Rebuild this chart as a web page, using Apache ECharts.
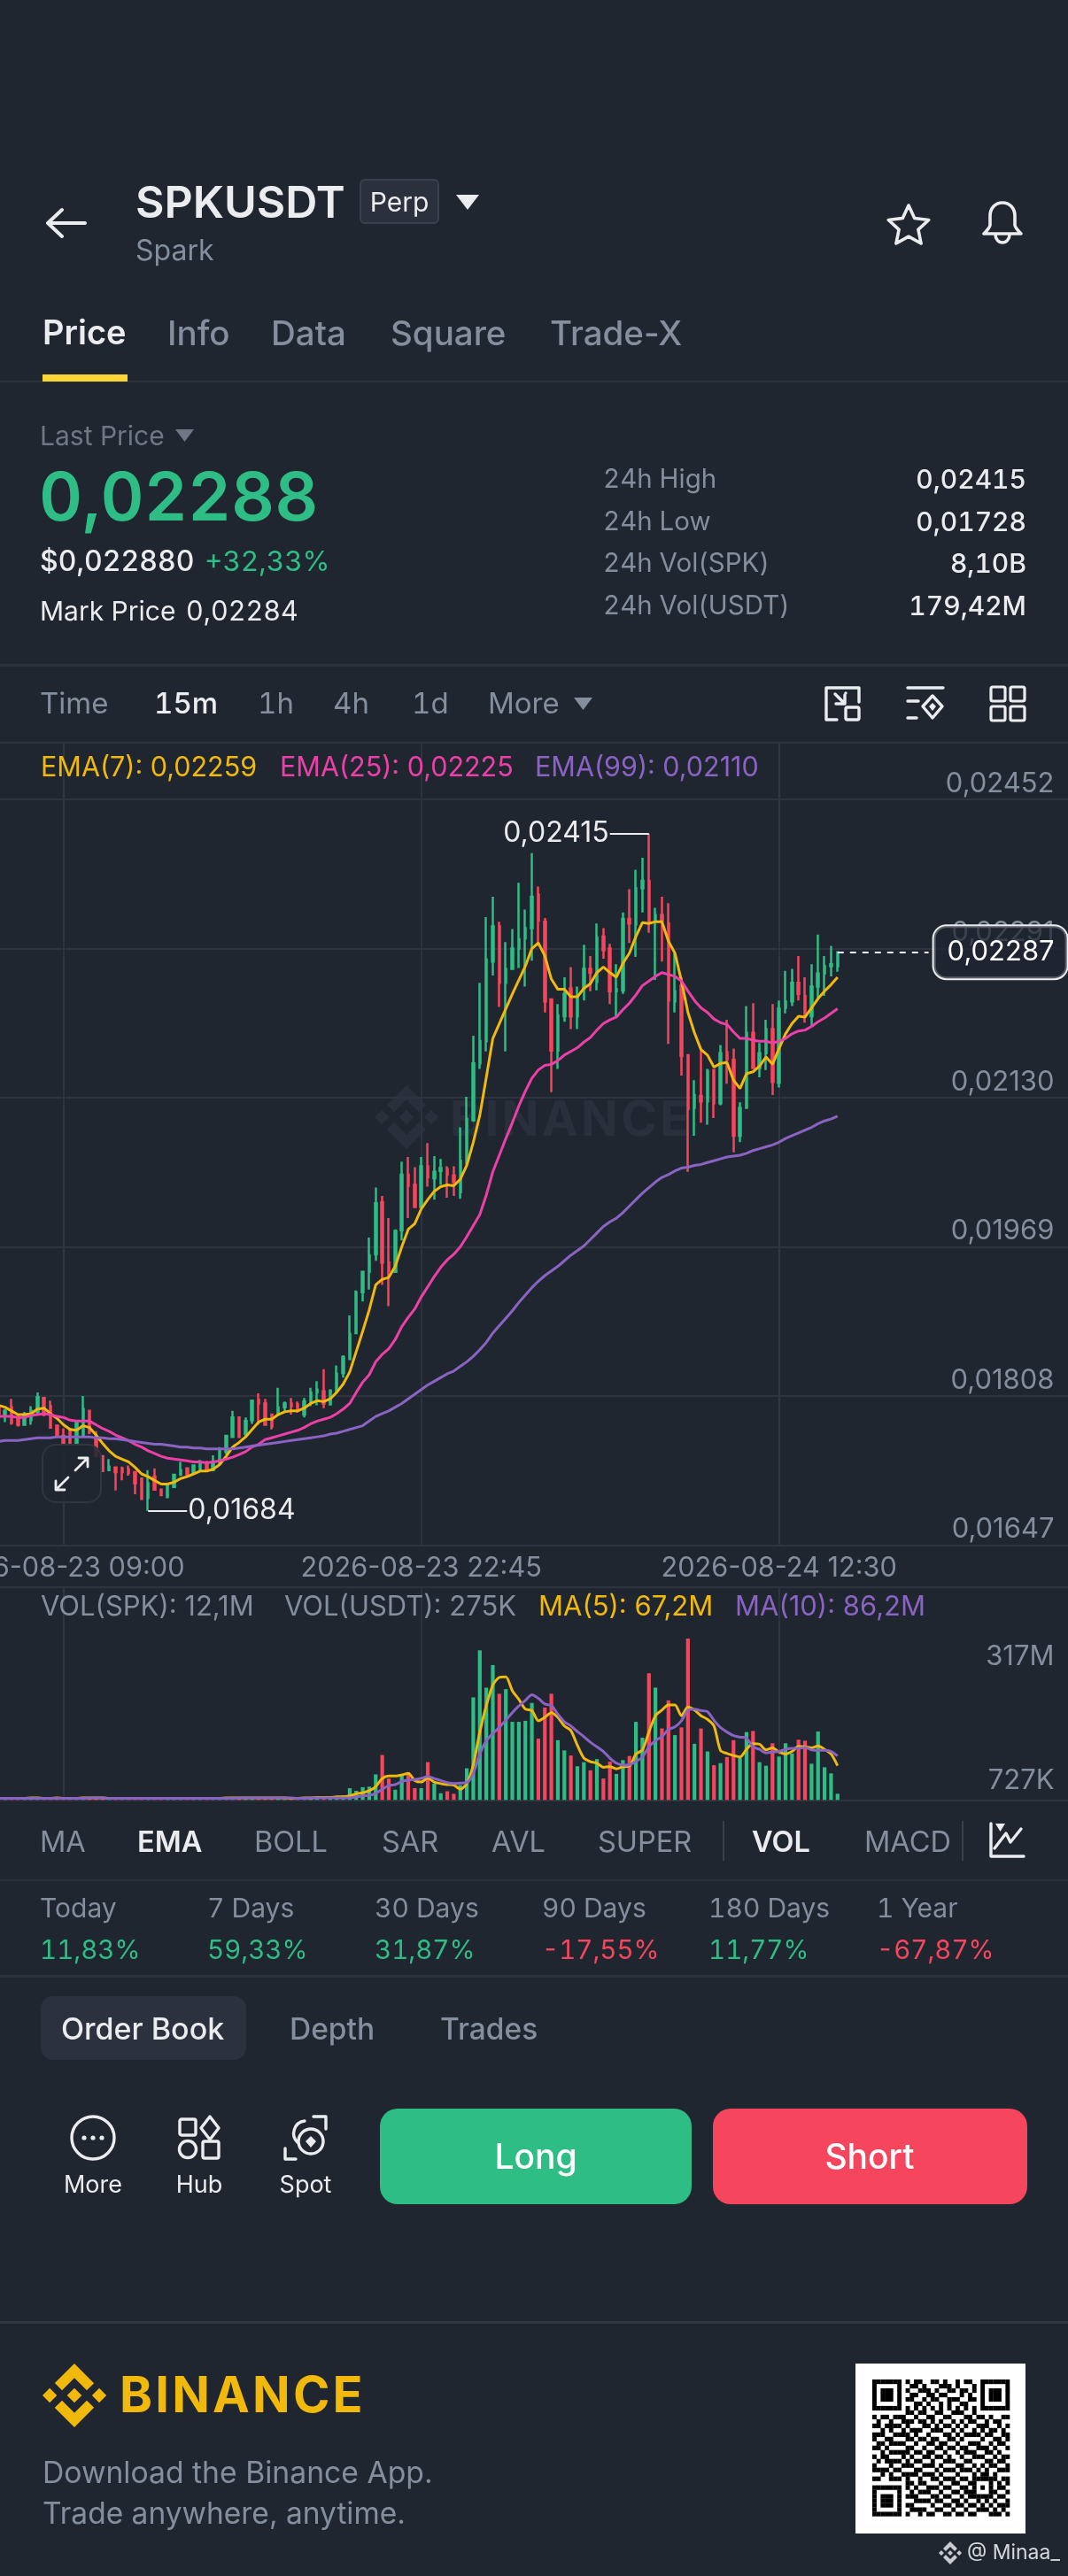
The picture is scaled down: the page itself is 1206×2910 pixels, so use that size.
<!DOCTYPE html>
<html><head><meta charset="utf-8"><title>SPKUSDT</title>
<script src="https://cdn.jsdelivr.net/npm/echarts@6/dist/echarts.min.js"></script>
<style>
html,body{margin:0;padding:0;background:#1f2630;width:1206px;height:2910px;overflow:hidden;font-family:Inter,"Noto Sans",sans-serif}
#wm,#chart,#ui{position:absolute;left:0;top:0;width:1206px;height:2910px}
#wm{z-index:0}#chart{z-index:1}#ui{z-index:2;pointer-events:none}
.t{position:absolute;white-space:nowrap;transform:translateY(-50%);line-height:1.2}
.n{font-feature-settings:"tnum"}
.r{transform:translate(-100%,-50%)}.c{transform:translate(-50%,-50%)}
.b{position:absolute}
svg{position:absolute;overflow:visible}
</style></head><body>
<div id="wm"></div><div id="chart"></div><div id="ui"></div>
<script>
// ---------- DATA ----------
// each candle: [open, close, low, high]
const candles = [
[0.01797,0.01789,0.01788,0.01800],[0.01788,0.01792,0.01780,0.01794],[0.01796,0.01779,0.01777,0.01805],[0.01785,0.01777,0.01775,0.01788],[0.01777,0.01786,0.01777,0.01791],
[0.01782,0.01792,0.01777,0.01797],[0.01791,0.01807,0.01789,0.01812],[0.01806,0.01788,0.01786,0.01806],[0.01797,0.01774,0.01773,0.01803],[0.01776,0.01766,0.01765,0.01777],
[0.01765,0.01757,0.01757,0.01773],[0.01772,0.01757,0.01757,0.01773],[0.01757,0.01780,0.01757,0.01782],[0.01766,0.01794,0.01766,0.01808],[0.01792,0.01769,0.01767,0.01793],
[0.01764,0.01743,0.01742,0.01770],[0.01743,0.01727,0.01726,0.01744],[0.01728,0.01732,0.01727,0.01740],[0.01731,0.01726,0.01706,0.01732],[0.01730,0.01726,0.01717,0.01732],
[0.01729,0.01725,0.01722,0.01733],[0.01726,0.01714,0.01702,0.01726],[0.01719,0.01697,0.01696,0.01719],[0.01698,0.01714,0.01684,0.01728],[0.01721,0.01707,0.01706,0.01730],
[0.01707,0.01701,0.01700,0.01707],[0.01699,0.01711,0.01699,0.01713],[0.01710,0.01723,0.01709,0.01724],[0.01723,0.01728,0.01723,0.01737],[0.01730,0.01723,0.01722,0.01731],
[0.01726,0.01733,0.01724,0.01734],[0.01729,0.01736,0.01729,0.01739],[0.01735,0.01729,0.01728,0.01738],[0.01728,0.01737,0.01728,0.01744],[0.01736,0.01750,0.01735,0.01753],
[0.01748,0.01765,0.01745,0.01765],[0.01764,0.01785,0.01764,0.01792],[0.01785,0.01764,0.01764,0.01786],[0.01767,0.01781,0.01765,0.01785],[0.01782,0.01803,0.01778,0.01804],
[0.01804,0.01800,0.01777,0.01811],[0.01800,0.01777,0.01777,0.01805],[0.01788,0.01775,0.01772,0.01788],[0.01788,0.01796,0.01787,0.01817],[0.01796,0.01800,0.01791,0.01802],
[0.01800,0.01797,0.01788,0.01806],[0.01799,0.01794,0.01790,0.01802],[0.01788,0.01802,0.01785,0.01806],[0.01802,0.01812,0.01797,0.01817],[0.01812,0.01815,0.01798,0.01824],
[0.01813,0.01800,0.01795,0.01837],[0.01799,0.01814,0.01798,0.01814],[0.01814,0.01832,0.01812,0.01841],[0.01833,0.01850,0.01828,0.01852],[0.01848,0.01875,0.01847,0.01895],
[0.01876,0.01920,0.01876,0.01922],[0.01920,0.01942,0.01910,0.01942],[0.01942,0.01960,0.01923,0.01979],[0.01961,0.02016,0.01954,0.02033],[0.02017,0.01952,0.01928,0.02024],
[0.01952,0.01943,0.01905,0.02000],[0.01942,0.01986,0.01942,0.01988],[0.01987,0.02047,0.01976,0.02061],[0.02047,0.02035,0.02000,0.02066],[0.02036,0.02012,0.02011,0.02055],
[0.02012,0.02056,0.02011,0.02066],[0.02056,0.02044,0.02034,0.02081],[0.02043,0.02050,0.02020,0.02067],[0.02051,0.02054,0.02036,0.02064],[0.02053,0.02047,0.02022,0.02056],
[0.02046,0.02039,0.02024,0.02056],[0.02028,0.02062,0.02021,0.02098],[0.02060,0.02107,0.02058,0.02131],[0.02106,0.02167,0.02104,0.02197],[0.02167,0.02191,0.02161,0.02254],
[0.02191,0.02279,0.02180,0.02325],[0.02277,0.02315,0.02262,0.02347],[0.02315,0.02254,0.02228,0.02320],[0.02254,0.02269,0.02180,0.02298],[0.02269,0.02291,0.02268,0.02312],
[0.02291,0.02301,0.02270,0.02362],[0.02302,0.02313,0.02250,0.02333],[0.02313,0.02347,0.02278,0.02394],[0.02349,0.02321,0.02294,0.02358],[0.02320,0.02234,0.02222,0.02324],
[0.02236,0.02181,0.02136,0.02236],[0.02181,0.02219,0.02161,0.02231],[0.02218,0.02242,0.02212,0.02260],[0.02248,0.02218,0.02204,0.02271],[0.02218,0.02238,0.02204,0.02250],
[0.02248,0.02269,0.02235,0.02295],[0.02269,0.02265,0.02245,0.02283],[0.02255,0.02303,0.02246,0.02318],[0.02304,0.02289,0.02280,0.02313],[0.02291,0.02245,0.02231,0.02296],
[0.02245,0.02247,0.02218,0.02274],[0.02246,0.02323,0.02242,0.02330],[0.02323,0.02318,0.02297,0.02355],[0.02317,0.02356,0.02282,0.02376],[0.02356,0.02364,0.02330,0.02389],
[0.02364,0.02320,0.02308,0.02415],[0.02321,0.02327,0.02257,0.02335],[0.02327,0.02321,0.02277,0.02347],[0.02318,0.02235,0.02188,0.02340],[0.02234,0.02245,0.02222,0.02286],
[0.02251,0.02175,0.02154,0.02260],[0.02176,0.02118,0.02050,0.02177],[0.02119,0.02133,0.02089,0.02149],[0.02132,0.02126,0.02103,0.02181],[0.02126,0.02159,0.02101,0.02161],
[0.02160,0.02124,0.02108,0.02161],[0.02124,0.02178,0.02122,0.02187],[0.02179,0.02171,0.02145,0.02214],[0.02171,0.02089,0.02071,0.02183],[0.02089,0.02119,0.02082,0.02125],
[0.02119,0.02200,0.02118,0.02229],[0.02200,0.02162,0.02161,0.02232],[0.02162,0.02178,0.02152,0.02189],[0.02178,0.02204,0.02160,0.02214],[0.02204,0.02147,0.02133,0.02231],
[0.02146,0.02226,0.02141,0.02235],[0.02227,0.02234,0.02221,0.02267],[0.02234,0.02254,0.02229,0.02269],[0.02254,0.02242,0.02235,0.02283],[0.02240,0.02218,0.02211,0.02260],
[0.02218,0.02250,0.02208,0.02274],[0.02250,0.02264,0.02238,0.02306],[0.02264,0.02272,0.02240,0.02283],[0.02272,0.02274,0.02261,0.02294],[0.02272,0.02287,0.02266,0.02288]
];
const ema7 = [
0.01798,0.01796,0.01792,0.01788,0.01788,0.01789,0.01794,0.01795,0.01789,0.01784,
0.01777,0.01772,0.01771,0.01776,0.01774,0.01766,0.01757,0.01749,0.01743,0.01740,
0.01737,0.01731,0.01724,0.01721,0.01717,0.01713,0.01713,0.01715,0.01719,0.01721,
0.01724,0.01727,0.01727,0.01729,0.01734,0.01743,0.01753,0.01758,0.01764,0.01772,
0.01780,0.01783,0.01783,0.01788,0.01791,0.01792,0.01792,0.01795,0.01800,0.01803,
0.01802,0.01805,0.01812,0.01821,0.01834,0.01856,0.01878,0.01901,0.01928,0.01934,
0.01936,0.01948,0.01969,0.01988,0.01994,0.02010,0.02020,0.02029,0.02034,0.02036,
0.02035,0.02042,0.02057,0.02082,0.02111,0.02152,0.02194,0.02210,0.02226,0.02242,
0.02257,0.02272,0.02291,0.02297,0.02283,0.02258,0.02247,0.02247,0.02239,0.02239,
0.02248,0.02253,0.02265,0.02271,0.02265,0.02260,0.02275,0.02286,0.02304,0.02319,
0.02318,0.02320,0.02320,0.02299,0.02286,0.02256,0.02222,0.02200,0.02182,0.02176,
0.02163,0.02167,0.02168,0.02149,0.02140,0.02156,0.02158,0.02164,0.02174,0.02166,
0.02183,0.02199,0.02210,0.02218,0.02217,0.02227,0.02237,0.02245,0.02252,0.02260];
const ema25 = [
0.01786,0.01786,0.01786,0.01785,0.01785,0.01787,0.01788,0.01789,0.01788,0.01786,
0.01785,0.01782,0.01781,0.01781,0.01781,0.01777,0.01773,0.01770,0.01766,0.01763,
0.01760,0.01756,0.01753,0.01749,0.01746,0.01743,0.01741,0.01740,0.01739,0.01738,
0.01737,0.01737,0.01736,0.01737,0.01738,0.01740,0.01742,0.01745,0.01748,0.01753,
0.01756,0.01761,0.01763,0.01765,0.01767,0.01769,0.01771,0.01774,0.01778,0.01781,
0.01783,0.01785,0.01789,0.01794,0.01800,0.01812,0.01823,0.01831,0.01845,0.01853,
0.01859,0.01869,0.01883,0.01893,0.01902,0.01915,0.01926,0.01937,0.01947,0.01955,
0.01961,0.01969,0.01980,0.01992,0.02004,0.02025,0.02050,0.02068,0.02086,0.02103,
0.02121,0.02137,0.02151,0.02160,0.02165,0.02166,0.02170,0.02176,0.02180,0.02184,
0.02190,0.02195,0.02203,0.02210,0.02214,0.02217,0.02225,0.02232,0.02241,0.02251,
0.02256,0.02261,0.02265,0.02263,0.02261,0.02256,0.02245,0.02235,0.02227,0.02222,
0.02215,0.02211,0.02209,0.02201,0.02194,0.02194,0.02192,0.02191,0.02191,0.02189,
0.02191,0.02194,0.02199,0.02202,0.02203,0.02207,0.02212,0.02216,0.02221,0.02226];
const ema99 = [
0.01759,0.01760,0.01760,0.01760,0.01761,0.01762,0.01763,0.01763,0.01763,0.01764,
0.01764,0.01764,0.01764,0.01764,0.01764,0.01763,0.01763,0.01762,0.01762,0.01761,
0.01760,0.01759,0.01758,0.01757,0.01756,0.01756,0.01755,0.01754,0.01753,0.01753,
0.01752,0.01752,0.01751,0.01751,0.01751,0.01751,0.01751,0.01752,0.01753,0.01754,
0.01755,0.01756,0.01757,0.01758,0.01759,0.01760,0.01761,0.01762,0.01763,0.01764,
0.01765,0.01767,0.01768,0.01770,0.01772,0.01774,0.01776,0.01781,0.01786,0.01789,
0.01792,0.01796,0.01800,0.01805,0.01810,0.01815,0.01820,0.01824,0.01828,0.01832,
0.01835,0.01840,0.01845,0.01851,0.01858,0.01866,0.01876,0.01884,0.01892,0.01900,
0.01909,0.01917,0.01925,0.01932,0.01938,0.01943,0.01948,0.01954,0.01960,0.01965,
0.01970,0.01977,0.01984,0.01991,0.01996,0.02000,0.02006,0.02013,0.02020,0.02027,
0.02033,0.02039,0.02044,0.02047,0.02051,0.02054,0.02055,0.02057,0.02058,0.02060,
0.02062,0.02064,0.02066,0.02067,0.02068,0.02070,0.02073,0.02075,0.02077,0.02079,
0.02082,0.02086,0.02089,0.02092,0.02095,0.02098,0.02102,0.02105,0.02107,0.02110];
// volume in millions
const volumes = [
3,4,2,3,5,3,4,2,3,4,3,2,5,6,3,4,4,2,3,3,2,4,3,5,3,2,3,4,3,2,2,3,2,3,4,5,6,4,3,5,
4,3,4,6,3,2,3,4,5,4,6,5,7,9,
23,18,25,26,50,88,42,20,48,54,23,23,74,32,13,17,12,29,62,201,293,220,264,208,217,153,153,155,190,
120,181,208,117,97,87,66,74,58,80,42,75,51,78,86,153,122,248,220,140,195,127,142,316,110,140,95,68,72,84,117,82,133,135,74,67,111,85,111,91,118,116,71,134,64,52,12.1];
const ma5 = [
3,3,3,3,3,4,4,3,3,4,3,3,3,4,4,4,4,3,3,3,3,3,3,3,3,3,3,3,3,3,3,3,3,3,3,4,4,4,4,4,
4,4,4,4,4,3,3,4,4,5,5,5,6,6,
8,12,14,18,26,42,47,47,49,52,38,35,43,35,32,30,29,21,32,69,133,185,225,240,241,214,197,178,175,
155,162,171,162,145,136,107,82,75,72,64,65,61,65,66,90,98,133,165,176,186,186,165,182,176,165,158,145,97,91,87,84,99,110,109,98,102,94,90,95,105,104,102,106,99,90,67.2];
const ma10 = [
3,3,3,3,3,3,3,3,3,3,3,3,3,3,4,4,4,3,3,3,3,3,3,3,3,3,3,3,3,3,3,3,3,3,3,3,3,4,4,4,
4,4,4,4,4,4,3,3,4,4,4,4,4,4,
4,6,8,9,13,21,28,30,36,39,40,42,46,42,38,34,32,33,34,52,90,116,130,142,156,171,184,195,206,
199,188,185,168,153,145,134,124,113,104,95,82,72,68,69,75,84,104,116,124,138,143,155,176,178,175,173,156,142,133,126,123,121,104,99,92,94,95,99,101,101,103,98,97,97,95,86.2];
const priceTicks = [0.01647,0.01808,0.01969,0.02130,0.02291,0.02452];
const volTicks = [0.727,317];
const volTickLabels = ['727K','317M'];
const timeLabelIndex = [10,65,120];
const highPrice = 0.02415, lowPrice = 0.01684, lastPrice = 0.02287;
const highIndex = 100, lowIndex = 23, lastIndex = 129;
const legendMain = [['EMA(7): 0,02259',46,'#f0b90b'],['EMA(25): 0,02225',316,'#ec40a8'],['EMA(99): 0,02110',604,'#8a63c3']];
const legendVol = [['VOL(SPK): 12,1M',46,'#848e9c'],['VOL(USDT): 275K',321,'#848e9c'],['MA(5): 67,2M',608,'#f0b90b'],['MA(10): 86,2M',830,'#8a63c3']];

// 15-minute category labels, first slot 2026-08-23 06:30
const categories = [];
(function(){let d=23,h=6,m=30;const p=n=>String(n).padStart(2,'0');
for(let i=0;i<165;i++){categories.push('2026-08-'+p(d)+' '+p(h)+':'+p(m));m+=15;if(m==60){m=0;h++;if(h==24){h=0;d++;}}}})();

const UP='#2ebd85',DOWN='#f6465d',LINE='#2e343f',GRAY='#848e9c',FONT='Inter';
const BAND=7.345, PX_PRICE=104670, PX_VOL=0.5766;
const gridLeft=-5.4, gridW=165*BAND, top1=839, h1=906.6, top2=1792.7, h2=240.6;

const chart=echarts.init(document.getElementById('chart'),null,{renderer:'canvas',width:1206,height:2910});
const lineS=(name,data,color,xi,yi,w,smooth)=>({name,type:'line',data,xAxisIndex:xi,yAxisIndex:yi,showSymbol:false,symbol:'none',smooth:smooth||false,
  lineStyle:{color,width:w},itemStyle:{color},silent:true,z:5});
const gridTick=i=>timeLabelIndex.includes(i);
chart.setOption({
 animation:false,backgroundColor:'transparent',
 textStyle:{fontFamily:FONT},
 grid:[{left:gridLeft,top:top1,width:gridW,height:h1,outerBoundsMode:'none',containLabel:false},
       {left:gridLeft,top:top2,width:gridW,height:h2,outerBoundsMode:'none',containLabel:false}],
 xAxis:[
  {type:'category',gridIndex:0,data:categories,boundaryGap:true,
   axisLine:{show:true,lineStyle:{color:LINE,width:2}},axisTick:{show:false,interval:gridTick,alignWithLabel:true},
   axisLabel:{interval:gridTick,color:GRAY,fontFamily:FONT,fontSize:30.7,margin:11,hideOverlap:false},
   splitLine:{show:true,interval:gridTick,alignWithLabel:true,lineStyle:{color:LINE,width:2}}},
  {type:'category',gridIndex:1,data:categories,boundaryGap:true,
   axisLine:{show:true,lineStyle:{color:LINE,width:2}},axisTick:{show:false,interval:gridTick,alignWithLabel:true},axisLabel:{show:false},
   splitLine:{show:true,interval:gridTick,alignWithLabel:true,lineStyle:{color:LINE,width:2}}}
 ],
 yAxis:[
  {type:'value',gridIndex:0,position:'right',min:0.01647,max:0.01647+h1/PX_PRICE,scale:true,
   axisLine:{show:false},axisTick:{show:false,customValues:priceTicks},
   axisLabel:{inside:true,customValues:priceTicks,margin:16,color:GRAY,fontFamily:FONT,fontSize:31,verticalAlign:'bottom',lineHeight:35,
     formatter:v=>v.toFixed(5).replace('.',',')},
   splitLine:{show:true,lineStyle:{color:LINE,width:2}}},
  {type:'value',gridIndex:1,position:'right',min:0,max:h2/PX_VOL,
   axisLine:{show:false},axisTick:{show:false,customValues:volTicks},
   axisLabel:{inside:true,customValues:volTicks,margin:16,color:GRAY,fontFamily:FONT,fontSize:31,lineHeight:42,
     verticalAlign:'top',verticalAlignMinLabel:'bottom',verticalAlignMaxLabel:'top',
     formatter:v=>volTickLabels[volTicks.indexOf(v)]},
   splitLine:{show:false}}
 ],
 series:[
  {name:'SPKUSDT',type:'candlestick',xAxisIndex:0,yAxisIndex:0,data:candles,barWidth:2,silent:true,z:3,
   itemStyle:{color:UP,color0:DOWN,borderColor:UP,borderColor0:DOWN,borderWidth:2.5},
   markLine:{silent:true,symbol:'none',animation:false,precision:5,z:6,
    data:[
     [{coord:[highIndex-6,highPrice],lineStyle:{color:'#eaecef',width:2,type:'solid'},
       label:{show:true,position:'start',distance:1,formatter:'0,02415',color:'#eaecef',fontFamily:FONT,fontSize:32}},{coord:[highIndex,highPrice]}],
     [{coord:[lowIndex,lowPrice],lineStyle:{color:'#eaecef',width:2,type:'solid'},
       label:{show:true,position:'end',distance:1,formatter:'0,01684',color:'#eaecef',fontFamily:FONT,fontSize:32}},{coord:[lowIndex+6,lowPrice]}],
     [{coord:[lastIndex,lastPrice],lineStyle:{color:'#eaecef',width:2,type:[7,7]},
       label:{show:true,position:'end',distance:6,formatter:'0,02287',color:'#ffffff',fontFamily:FONT,fontSize:31,
         backgroundColor:'rgba(31,38,48,0.72)',borderColor:'#eaecef',borderWidth:2,borderRadius:14,padding:[14,14,14,15]}},{coord:[lastIndex+14.6|0,lastPrice]}]
    ]}},
  lineS('EMA(7)',ema7,'#f0b90b',0,0,3),
  lineS('EMA(25)',ema25,'#ec40a8',0,0,3),
  lineS('EMA(99)',ema99,'#8a63c3',0,0,3),
  {name:'VOL',type:'bar',xAxisIndex:1,yAxisIndex:1,barWidth:4.2,silent:true,z:3,
   data:volumes.map((v,i)=>({value:v,itemStyle:{color:candles[i][1]>=candles[i][0]?UP:DOWN}}))},
  lineS('MA(5)',ma5,'#f0b90b',1,1,3,0.25),
  lineS('MA(10)',ma10,'#8a63c3',1,1,3,0.25)
 ],
 graphic:[...legendMain.map(l=>({type:'text',x:l[1],y:868,z:20,style:{text:l[0],fill:l[2],font:'400 30.5px Inter',textVerticalAlign:'middle'}})),
          ...legendVol.map(l=>({type:'text',x:l[1],y:1816,z:20,style:{text:l[0],fill:l[2],font:'400 31px Inter',textVerticalAlign:'middle'}}))]
});

// ---------- app chrome ----------
const BN='M38.73 53.2l24.59-24.58 24.6 24.6 14.3-14.31L63.32 0 24.42 38.9l14.31 14.3zM0 63.31l14.31-14.31 14.31 14.31-14.31 14.3zM38.73 73.41l24.59 24.59 24.6-24.6 14.31 14.29-38.9 38.91-38.91-38.88v-.03l14.31-14.28zM98.3 63.31l14.3-14.31 14.31 14.31-14.3 14.3zM77.83 63.3L63.32 48.78 52.59 59.51l-1.24 1.23-2.54 2.54 14.51 14.5 14.51-14.52z';
const ui=document.getElementById('ui'),wm=document.getElementById('wm');
function T(s,x,y,size,color,w,al,host,ls){const e=document.createElement('div');e.className='t'+(al?' '+al:'')+(/\d/.test(s)?' n':'');e.textContent=s;
 e.style.cssText+=`left:${x}px;top:${y}px;font-size:${size}px;color:${color};font-weight:${w||400};letter-spacing:${ls||0}px`;(host||ui).appendChild(e);return e;}
function B(x,y,w,h,bg,r,extra,host){const e=document.createElement('div');e.className='b';
 e.style.cssText=`left:${x}px;top:${y}px;width:${w}px;height:${h}px;background:${bg};border-radius:${r||0}px;${extra||''}`;(host||ui).appendChild(e);return e;}
function S(x,y,w,h,vb,inner,host){const e=document.createElement('div');e.innerHTML=`<svg style="left:${x}px;top:${y}px" width="${w}" height="${h}" viewBox="${vb}">${inner}</svg>`;
 const s=e.firstChild;(host||ui).appendChild(s);return s;}
const WH='#eaecef',G2='#6f7785';
const stroke=(c,w)=>`fill="none" stroke="${c}" stroke-width="${w}" stroke-linecap="round" stroke-linejoin="round"`;
// separators
B(0,430,1206,2,'#2b3139');B(0,750,1206,3,'#2b3139');B(0,838,1206,2,LINE);B(0,1792,1206,2,LINE);
B(0,2123,1206,2,'#2b3139');B(0,2231,1206,3,'#2b3139');B(0,2622,1206,3,'#2f3541');
// header
S(52,235,45,34,'0 0 45 34',`<path d="M44 17H2M18 2L2 17l16 15" ${stroke(WH,4)}/>`);
T('SPKUSDT',153,228,50,WH,600);
B(406,202,90,51,'#2b313c',6,'box-sizing:border-box;border:2px solid #3a414d');
T('Perp',451,228,30,WH,400,'c');
S(515,220,26,17,'0 0 26 17','<path d="M0 0h26L13 17z" fill="#eaecef"/>');
T('Spark',153,283,32,GRAY);
S(1001,230,50,46,'0 0 50 46',`<path d="M25 2l6.7 14.5 16 2-11.8 10.8 3.2 15.7L25 37.2 10.9 45l3.2-15.7L2.3 18.5l16-2z" ${stroke(WH,3.6)}/>`);
S(1108,227,48,50,'0 0 48 50',`<path d="M24 2c-9 0-14 7-14 15v10c0 3-3 6-7 10h42c-4-4-7-7-7-10V17c0-8-5-15-14-15z" ${stroke(WH,3.6)}/><path d="M16 38a8 9 0 0 0 16 0" ${stroke(WH,3.6)}/>`);
// tabs
T('Price',48,376,38,WH,600);
[['Info',189],['Data',306],['Square',441],['Trade-X',621]].forEach(a=>T(a[0],a[1],376,38.5,GRAY,500));
B(48,423,96,8,'#fcd535');
// price block
T('Last Price',45,492,30,G2);
S(198,485,21,14,'0 0 21 14',`<path d="M0 0h21L10.5 14z" fill="${G2}"/>`);
T('0,02288',44,561,76,UP,600);
T('$0,022880',45,634,32,WH,500);
T('+32,33%',231,634,31.5,UP,400);
T('Mark Price',45,690,30,WH);T('0,02284',210,690,30.5,WH);
[['24h High','0,02415',541],['24h Low','0,01728',589],['24h Vol(SPK)','8,10B',636],['24h Vol(USDT)','179,42M',684]].forEach(a=>{
 T(a[0],681,a[2],29.5,GRAY);T(a[1],1159,a[2],30,WH,500,'r');});
// timeframes
[['Time',45,GRAY,400],['15m',174,WH,500],['1h',291,GRAY,400],['4h',376,GRAY,400],['1d',465,GRAY,400],['More',551,GRAY,400]].forEach(a=>T(a[0],a[1],795,33,a[2],a[3]));
S(648,788,21,14,'0 0 21 14',`<path d="M0 0h21L10.5 14z" fill="${GRAY}"/>`);
S(931,775,41,40,'0 0 41 40',`<path d="M14 2H2v36h12M14 2h25v16M24 8v0M12 9l11 11M13 20h10V10" ${stroke(WH,3.4)}/><rect x="24" y="24" width="15" height="14" rx="2" ${stroke(WH,3.4)}/>`);
S(1023,775,42,40,'0 0 42 40',`<path d="M2 2h40M2 17h12M2 36h10" ${stroke(WH,3.4)}/><path d="M30 11l11 12-11 13-11-13z" ${stroke(WH,3.4)}/><path d="M30 19l4 4-4 5-4-5z" fill="#eaecef"/>`);
S(1118,775,40,40,'0 0 40 40',[[1,1],[23,1],[1,23],[23,23]].map(p=>`<rect x="${p[0]}" y="${p[1]}" width="16" height="16" rx="2" ${stroke(WH,3.2)}/>`).join(''));
// indicator row
[['MA',45,GRAY,400],['EMA',155,WH,600],['BOLL',287,GRAY,400],['SAR',431,GRAY,400],['AVL',555,GRAY,400],['SUPER',675,GRAY,400],['VOL',849,WH,600],['MACD',976,GRAY,400]].forEach(a=>T(a[0],a[1],2080,32.5,a[2],a[3]));
B(816,2057,2,45,'#3a414d');B(1086,2057,2,45,'#3a414d');
S(1117,2058,41,41,'0 0 41 41',`<path d="M2 2v37h37" ${stroke(WH,3.4)}/><path d="M6 30l13-17 5 10 12-15" ${stroke(WH,3.4)}/><path d="M7 2h11l-5.5 9z" fill="#eaecef"/>`);
// period stats
[['Today','11,83%',45,UP],['7 Days','59,33%',234,UP],['30 Days','31,87%',423,UP],['90 Days','-17,55%',612,DOWN],['180 Days','11,77%',800,UP],['1 Year','-67,87%',990,DOWN]].forEach(a=>{
 T(a[0],a[2],2155,30,GRAY);T(a[1],a[2],2203,29.5,a[3]);});
// tabs 2
B(46,2255,232,72,'#2b313d',14);
T('Order Book',69,2292,34,WH,500);T('Depth',327,2292,33.5,GRAY,500);T('Trades',497,2292,33.5,GRAY,500);
// buttons
B(429,2382,352,108,UP,20);B(805,2382,355,108,DOWN,20);
T('Long',605,2436,39,'#fff',500,'c');T('Short',982,2436,39,'#fff',500,'c');
// action icons
S(79,2389,52,52,'0 0 52 52',`<circle cx="26" cy="26" r="24" ${stroke(WH,3.4)}/><circle cx="16" cy="26" r="2.6" fill="#eaecef"/><circle cx="26" cy="26" r="2.6" fill="#eaecef"/><circle cx="36" cy="26" r="2.6" fill="#eaecef"/>`);
T('More',105,2468,27,WH,400,'c');
S(201,2389,48,52,'0 0 48 52',`<rect x="2" y="5" width="18" height="18" rx="2" ${stroke(WH,3.4)}/><path d="M36 2l10 13-10 13-10-13z" ${stroke(WH,3.4)}/><circle cx="11" cy="39" r="9.5" ${stroke(WH,3.4)}/><rect x="28" y="30" width="18" height="19" rx="2" ${stroke(WH,3.4)}/>`);
T('Hub',225,2468,27,WH,400,'c');
S(320,2389,50,52,'0 0 50 52',`<path d="M34 2h14v14M2 38v12h12" ${stroke(WH,3.4)}/><path d="M24 7a14 14 0 0 0-8 24" ${stroke(WH,3.4)}/><circle cx="31" cy="30" r="14" ${stroke(WH,3.4)}/><path d="M31 24l6 6-6 7-6-7z" fill="#eaecef"/>`);
T('Spot',345,2468,27,WH,400,'c');
// expand button over the chart
B(47,1631,68,67,'rgba(31,38,48,0.86)',16,'box-sizing:border-box;border:2.5px solid #2f3541');
S(61,1645,40,40,'0 0 40 40',`<path d="M24 16L38 2M28 2h10v10M16 24L2 38M12 38H2V28" ${stroke('#eaecef',2.8)}/>`);
// watermark
S(423,1226,72,72,'0 0 126.61 126.61',`<path d="${BN}" fill="#2a303b"/>`,wm);
T('BINANCE',508,1263,55,'#2a303b',700,'',wm,3.3);
// footer
S(48,2670,72,72,'0 0 126.61 126.61',`<path d="${BN}" fill="#f0b90b"/>`);
T('BINANCE',135,2706,56,'#f0b90b',700,'',ui,3.2);
T('Download the Binance App.',48,2793,33.7,GRAY);
T('Trade anywhere, anytime.',48,2839,33.5,GRAY);
B(966,2670,192,192,'#ffffff');
const qrRows=[
'111111101011001101001011001111111','100000100110100011101000101000001','101110101001110100110110101011101','101110100110011011000101001011101','101110101100101100111001101011101','100000100011010010100110001000001','111111101010101010101010101111111','000000001101100110011100100000000','101101110010011001100011011010011','010010011101101010010101100101100',
'110111101000110101101010011100101','001010010111001110010100101011010','111001111010010001101011110110011','100110001101101100110100001001101','011011110010011011001001110010110','110100001100100110110110011101001','001011111011011001001011100110100','101100010100110110100100111001011','010111101011001001110011000110110','100010011100111010001100101011001',
'111101100011000101110111010100111','001010011110111010001000101101000','110011101001001101110110111111011','000000001101100010011001100010101','111111101010011101100110101010110','100000100101110010011011100011001','101110101110001101100101111110110','101110100011110110011010010101001','101110101100001001101101101010111','100000100111100110010010011101010','111111101001011001101101100011101'];
(function(){const m=4.7,x0=985,y0=2688;let r='';qrRows.forEach((row,j)=>{[...row].forEach((c,i)=>{if(c=='1')r+=`<rect x="${(i*m).toFixed(2)}" y="${(j*m*1.06).toFixed(2)}" width="${m+0.2}" height="${m*1.06+0.2}" fill="#000"/>`;});});
S(x0,y0,155,155,'0 0 155 155',r);})();
S(1060,2871,26,26,'0 0 126.61 126.61',`<path d="${BN}" fill="#c7cbd1"/>`);
T('@ Minaa_',1092,2884,23,'#d5d8dc');
</script></body></html>
